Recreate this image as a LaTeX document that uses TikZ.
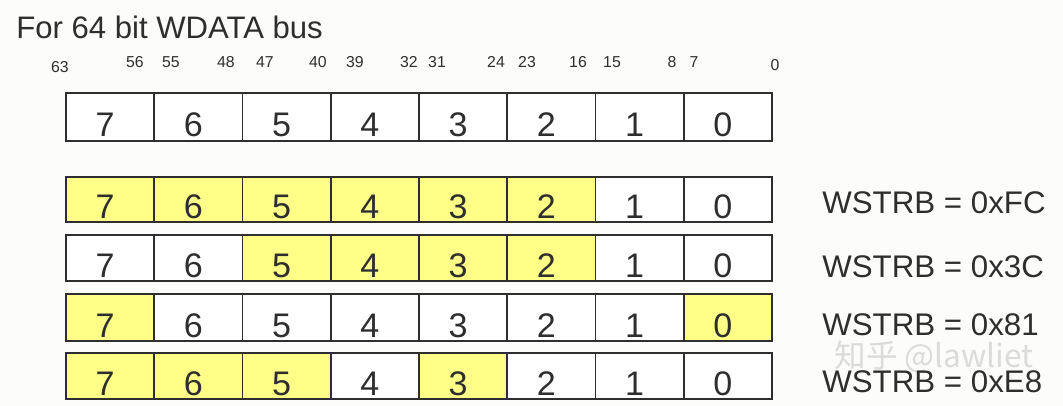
\documentclass[tikz,border=0pt]{standalone}
\usepackage{fontspec}
\setmainfont{Liberation Sans}
\newfontfamily\cjk{Noto Sans CJK SC}
\usepackage{tikz}

\definecolor{ink}{HTML}{2E2E2E}
\definecolor{hit}{HTML}{FFFF88}
\definecolor{paper}{HTML}{FCFCFA}

\tikzset{
  byte/.style={draw=ink, line width=1.1pt},
  digit/.style={anchor=base, text=ink, inner sep=0pt, font=\fontsize{19.4}{20}\selectfont},
  bitno/.style={text=ink, inner sep=0pt, font=\fontsize{9}{9}\selectfont},
  strb/.style={anchor=base west, text=ink, inner sep=0pt, font=\fontsize{17.8}{18}\selectfont},
  watermark/.style={text=black!14, inner sep=0pt, font=\cjk\fontsize{18}{19}\selectfont},
}

\begin{document}
\begin{tikzpicture}[x=0.02cm, y=-0.02cm]
\fill[paper] (0,0) rectangle (1063,406);
\useasboundingbox (0,0) rectangle (1063,406);

\node[anchor=base west, text=ink, inner sep=0pt, font=\fontsize{17.7}{18}\selectfont] (title) at (16,38) {For 64 bit WDATA bus};

% bit numbers above the bytes
\foreach \n/\x/\y in {63/60/67, 56/135/62, 55/171/62, 48/226/62, 47/265/62, 40/318/62,
                      39/355/62, 32/409/62, 31/437/62, 24/496/62, 23/527/62, 16/578/62,
                      15/612/62, 8/672/62, 7/694/62, 0/775/65}
  \node[bitno] (bit\n) at (\x,\y) {\n};

% the bus itself
\foreach \b in {7,...,0}{
  \filldraw[byte, fill=white] ({66+(7-\b)*88.25},93) rectangle ({66+(8-\b)*88.25},141);
  \node[digit] (r0b\b) at ({66+(7.5-\b)*88.25-5},136) {\b};
}

% WSTRB = 0xFC
\foreach \b/\c in {7/hit, 6/hit, 5/hit, 4/hit, 3/hit, 2/hit, 1/white, 0/white}{
  \filldraw[byte, fill=\c] ({66+(7-\b)*88.25},177) rectangle ({66+(8-\b)*88.25},222);
  \node[digit] (r1b\b) at ({66+(7.5-\b)*88.25-5},218) {\b};
}
\node[strb] (strb1) at (822,213) {WSTRB = 0xFC};

% WSTRB = 0x3C
\foreach \b/\c in {7/white, 6/white, 5/hit, 4/hit, 3/hit, 2/hit, 1/white, 0/white}{
  \filldraw[byte, fill=\c] ({66+(7-\b)*88.25},235) rectangle ({66+(8-\b)*88.25},281);
  \node[digit] (r2b\b) at ({66+(7.5-\b)*88.25-5},277) {\b};
}
\node[strb] (strb2) at (822,277) {WSTRB = 0x3C};

% WSTRB = 0x81
\foreach \b/\c in {7/hit, 6/white, 5/white, 4/white, 3/white, 2/white, 1/white, 0/hit}{
  \filldraw[byte, fill=\c] ({66+(7-\b)*88.25},294) rectangle ({66+(8-\b)*88.25},341);
  \node[digit] (r3b\b) at ({66+(7.5-\b)*88.25-5},337) {\b};
}
\node[strb] (strb3) at (822,335) {WSTRB = 0x81};

% WSTRB = 0xE8
\foreach \b/\c in {7/hit, 6/hit, 5/hit, 4/white, 3/hit, 2/white, 1/white, 0/white}{
  \filldraw[byte, fill=\c] ({66+(7-\b)*88.25},353) rectangle ({66+(8-\b)*88.25},399);
  \node[digit] (r4b\b) at ({66+(7.5-\b)*88.25-5},395) {\b};
}
\node[watermark] (mark) at (934,357) {知乎 @lawliet};
\node[strb] (strb4) at (822,392) {WSTRB = 0xE8};
\end{tikzpicture}
\end{document}
